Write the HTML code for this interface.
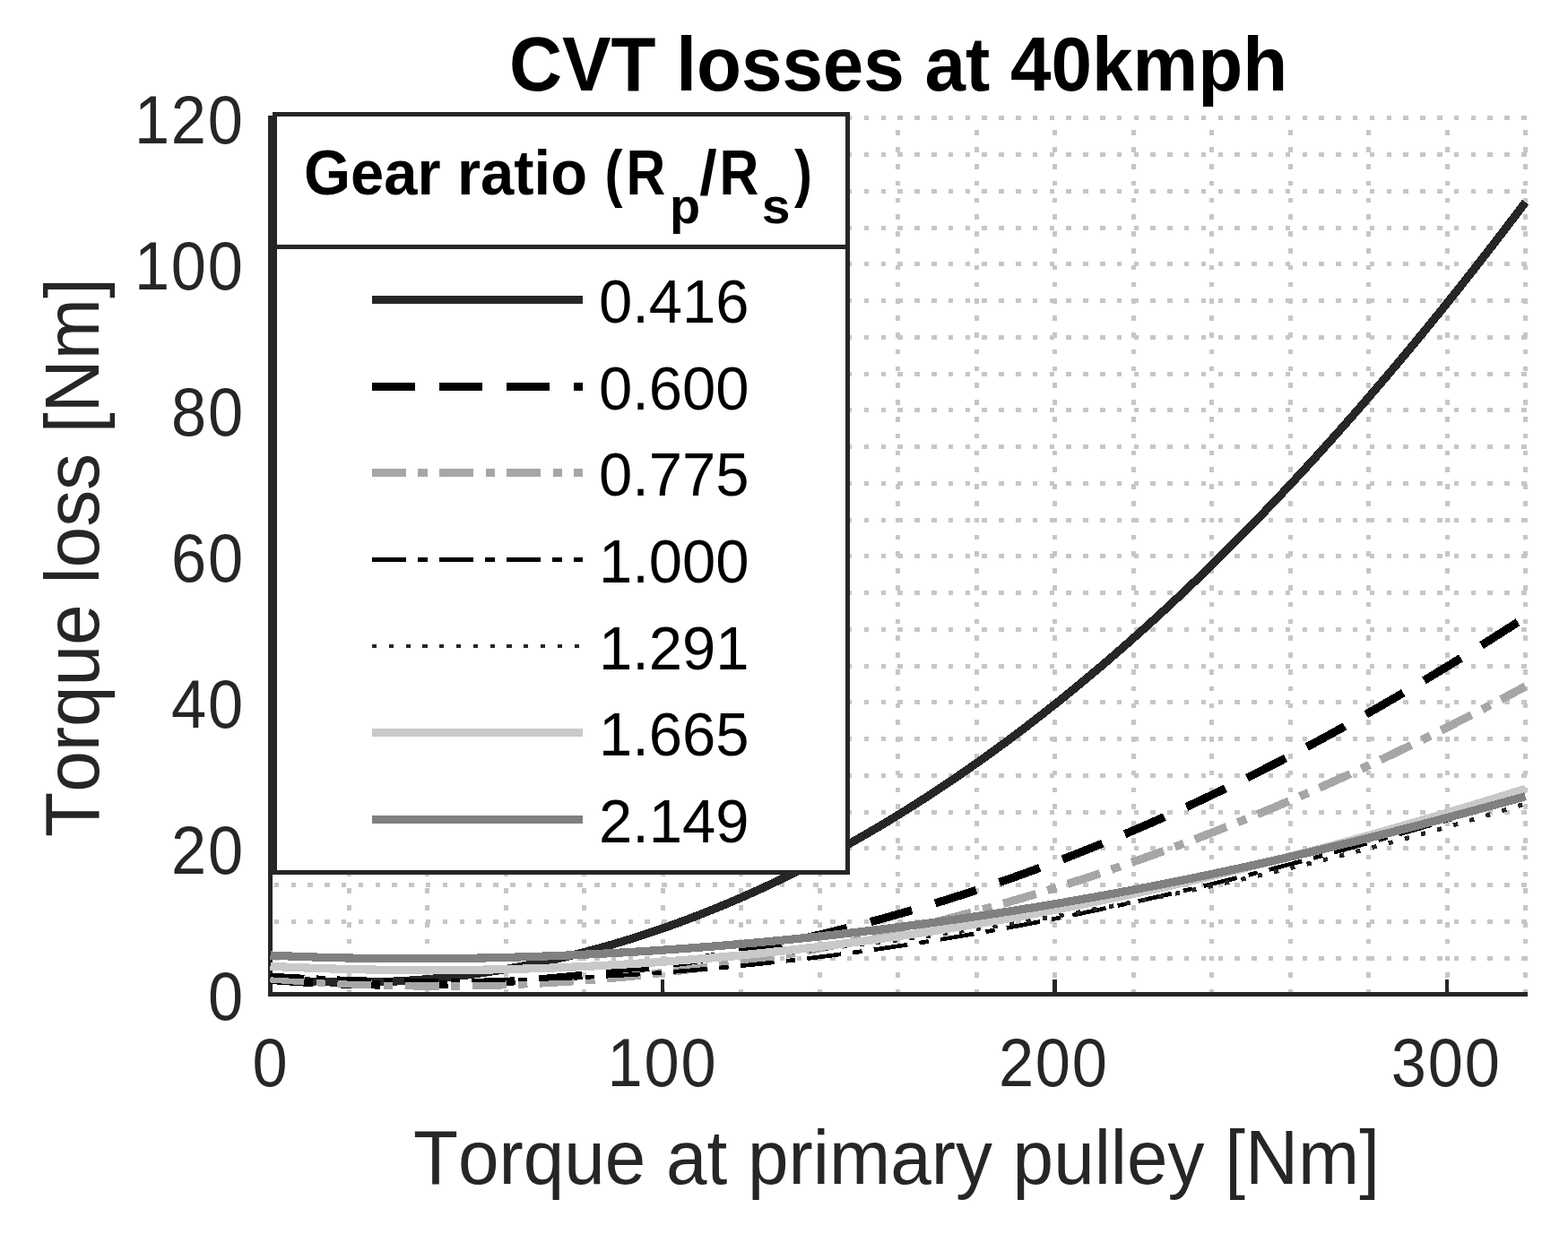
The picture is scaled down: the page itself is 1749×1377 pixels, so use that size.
<!DOCTYPE html>
<html lang="en"><head><meta charset="utf-8"><title>CVT losses at 40kmph</title>
<style>
html,body{margin:0;padding:0;background:#fff;}
body{width:1749px;height:1377px;overflow:hidden;}
svg{display:block;position:absolute;left:0;top:0;}
text{font-family:"Liberation Sans",Arial,Helvetica,sans-serif;font-kerning:none;}
.tk{font-size:73.70px;fill:#262626;letter-spacing:1.90px;}
.lb{font-size:81.80px;fill:#262626;}
.tt{font-size:81.80px;fill:#000;font-weight:bold;}
.lg{font-size:67.00px;fill:#000;}
.lt{font-size:67.00px;fill:#000;font-weight:bold;}
.ls{font-size:56.00px;fill:#000;font-weight:bold;}
</style></head><body>
<svg width="1749" height="1377" viewBox="0 0 1749 1377">
<rect x="0" y="0" width="1749" height="1377" fill="#ffffff"/>
<g stroke="#c6c6c6" stroke-width="5" fill="none" shape-rendering="crispEdges" stroke-dasharray="5.5 13.3">
<path d="M305.80 1069.50 H1703.90"/>
<path d="M305.80 1028.50 H1703.90"/>
<path d="M305.80 987.50 H1703.90"/>
<path d="M305.80 946.50 H1703.90"/>
<path d="M305.80 906.50 H1703.90"/>
<path d="M305.80 865.50 H1703.90"/>
<path d="M305.80 824.50 H1703.90"/>
<path d="M305.80 783.50 H1703.90"/>
<path d="M305.80 743.50 H1703.90"/>
<path d="M305.80 702.50 H1703.90"/>
<path d="M305.80 661.50 H1703.90"/>
<path d="M305.80 620.50 H1703.90"/>
<path d="M305.80 580.50 H1703.90"/>
<path d="M305.80 539.50 H1703.90"/>
<path d="M305.80 498.50 H1703.90"/>
<path d="M305.80 457.50 H1703.90"/>
<path d="M305.80 417.50 H1703.90"/>
<path d="M305.80 376.50 H1703.90"/>
<path d="M305.80 335.50 H1703.90"/>
<path d="M305.80 294.50 H1703.90"/>
<path d="M305.80 254.50 H1703.90"/>
<path d="M305.80 213.50 H1703.90"/>
<path d="M305.80 172.50 H1703.90"/>
<path d="M305.80 131.50 H1703.90"/>
<path d="M389.50 145.40 V1109.40"/>
<path d="M476.50 145.40 V1109.40"/>
<path d="M564.50 145.40 V1109.40"/>
<path d="M651.50 145.40 V1109.40"/>
<path d="M739.50 145.40 V1109.40"/>
<path d="M826.50 145.40 V1109.40"/>
<path d="M914.50 145.40 V1109.40"/>
<path d="M1001.50 145.40 V1109.40"/>
<path d="M1089.50 145.40 V1109.40"/>
<path d="M1176.50 145.40 V1109.40"/>
<path d="M1264.50 145.40 V1109.40"/>
<path d="M1351.50 145.40 V1109.40"/>
<path d="M1439.50 145.40 V1109.40"/>
<path d="M1526.50 145.40 V1109.40"/>
<path d="M1614.50 145.40 V1109.40"/>
<path d="M1701.50 145.40 V1109.40"/>
</g>
<g stroke="#262626" stroke-width="4.7" fill="none" shape-rendering="crispEdges">
<path d="M301.50 129.00 V1111.75"/>
<path d="M299.15 1109.40 H1703.90"/>
<path d="M739.00 1109.40 V1092.90"/>
<path d="M1176.50 1109.40 V1092.90"/>
<path d="M1614.00 1109.40 V1092.90"/>
</g>
<g fill="none" stroke-linejoin="round" shape-rendering="crispEdges">
<path d="M301.50 1092.02 L310.25 1092.79 L319.00 1093.48 L327.75 1094.09 L336.50 1094.62 L345.25 1095.08 L354.00 1095.46 L362.75 1095.76 L371.50 1095.99 L380.25 1096.14 L389.00 1096.21 L397.75 1096.20 L406.50 1096.12 L415.25 1095.95 L424.00 1095.72 L432.75 1095.40 L441.50 1095.01 L450.25 1094.54 L459.00 1094.00 L467.75 1093.37 L476.50 1092.67 L485.25 1091.90 L494.00 1091.05 L502.75 1090.12 L511.50 1089.11 L520.25 1088.03 L529.00 1086.87 L537.75 1085.63 L546.50 1084.32 L555.25 1082.93 L564.00 1081.46 L572.75 1079.92 L581.50 1078.30 L590.25 1076.60 L599.00 1074.83 L607.75 1072.98 L616.50 1071.05 L625.25 1069.05 L634.00 1066.97 L642.75 1064.81 L651.50 1062.58 L660.25 1060.27 L669.00 1057.88 L677.75 1055.42 L686.50 1052.87 L695.25 1050.26 L704.00 1047.56 L712.75 1044.79 L721.50 1041.94 L730.25 1039.01 L739.00 1036.00 L747.75 1032.92 L756.50 1029.76 L765.25 1026.53 L774.00 1023.21 L782.75 1019.82 L791.50 1016.35 L800.25 1012.80 L809.00 1009.18 L817.75 1005.47 L826.50 1001.69 L835.25 997.84 L844.00 993.90 L852.75 989.89 L861.50 985.79 L870.25 981.62 L879.00 977.38 L887.75 973.05 L896.50 968.64 L905.25 964.16 L914.00 959.60 L922.75 954.96 L931.50 950.24 L940.25 945.44 L949.00 940.57 L957.75 935.61 L966.50 930.58 L975.25 925.47 L984.00 920.28 L992.75 915.01 L1001.50 909.66 L1010.25 904.23 L1019.00 898.73 L1027.75 893.14 L1036.50 887.48 L1045.25 881.73 L1054.00 875.91 L1062.75 870.01 L1071.50 864.03 L1080.25 857.97 L1089.00 851.83 L1097.75 845.61 L1106.50 839.31 L1115.25 832.93 L1124.00 826.47 L1132.75 819.94 L1141.50 813.32 L1150.25 806.62 L1159.00 799.85 L1167.75 792.99 L1176.50 786.05 L1185.25 779.04 L1194.00 771.95 L1202.75 764.77 L1211.50 757.52 L1220.25 750.18 L1229.00 742.77 L1237.75 735.28 L1246.50 727.70 L1255.25 720.05 L1264.00 712.32 L1272.75 704.51 L1281.50 696.62 L1290.25 688.65 L1299.00 680.60 L1307.75 672.47 L1316.50 664.26 L1325.25 655.97 L1334.00 647.60 L1342.75 639.15 L1351.50 630.63 L1360.25 622.02 L1369.00 613.34 L1377.75 604.57 L1386.50 595.73 L1395.25 586.81 L1404.00 577.80 L1412.75 568.72 L1421.50 559.57 L1430.25 550.33 L1439.00 541.01 L1447.75 531.62 L1456.50 522.14 L1465.25 512.59 L1474.00 502.96 L1482.75 493.26 L1491.50 483.47 L1500.25 473.61 L1509.00 463.67 L1517.75 453.65 L1526.50 443.56 L1535.25 433.38 L1544.00 423.13 L1552.75 412.81 L1561.50 402.40 L1570.25 391.92 L1579.00 381.37 L1587.75 370.74 L1596.50 360.03 L1605.25 349.25 L1614.00 338.39 L1622.75 327.45 L1631.50 316.44 L1640.25 305.36 L1649.00 294.20 L1657.75 282.97 L1666.50 271.66 L1675.25 260.28 L1684.00 248.82 L1692.75 237.29 L1701.50 225.69" stroke="#262626" stroke-width="9.2"/>
<path d="M301.50 1093.27 L310.25 1093.97 L319.00 1094.62 L327.75 1095.23 L336.50 1095.79 L345.25 1096.31 L354.00 1096.78 L362.75 1097.21 L371.50 1097.59 L380.25 1097.93 L389.00 1098.23 L397.75 1098.48 L406.50 1098.69 L415.25 1098.86 L424.00 1098.99 L432.75 1099.07 L441.50 1099.11 L450.25 1099.11 L459.00 1099.07 L467.75 1098.99 L476.50 1098.87 L485.25 1098.71 L494.00 1098.51 L502.75 1098.26 L511.50 1097.98 L520.25 1097.66 L529.00 1097.30 L537.75 1096.90 L546.50 1096.45 L555.25 1095.97 L564.00 1095.46 L572.75 1094.90 L581.50 1094.30 L590.25 1093.67 L599.00 1092.99 L607.75 1092.28 L616.50 1091.53 L625.25 1090.74 L634.00 1089.91 L642.75 1089.05 L651.50 1088.14 L660.25 1087.20 L669.00 1086.22 L677.75 1085.20 L686.50 1084.14 L695.25 1083.04 L704.00 1081.91 L712.75 1080.74 L721.50 1079.53 L730.25 1078.28 L739.00 1076.99 L747.75 1075.67 L756.50 1074.30 L765.25 1072.90 L774.00 1071.46 L782.75 1069.98 L791.50 1068.46 L800.25 1066.90 L809.00 1065.31 L817.75 1063.67 L826.50 1062.00 L835.25 1060.29 L844.00 1058.54 L852.75 1056.75 L861.50 1054.92 L870.25 1053.05 L879.00 1051.14 L887.75 1049.20 L896.50 1047.21 L905.25 1045.18 L914.00 1043.12 L922.75 1041.01 L931.50 1038.87 L940.25 1036.68 L949.00 1034.45 L957.75 1032.19 L966.50 1029.88 L975.25 1027.53 L984.00 1025.15 L992.75 1022.72 L1001.50 1020.25 L1010.25 1017.74 L1019.00 1015.19 L1027.75 1012.60 L1036.50 1009.97 L1045.25 1007.29 L1054.00 1004.58 L1062.75 1001.82 L1071.50 999.03 L1080.25 996.19 L1089.00 993.31 L1097.75 990.38 L1106.50 987.42 L1115.25 984.41 L1124.00 981.36 L1132.75 978.27 L1141.50 975.14 L1150.25 971.97 L1159.00 968.75 L1167.75 965.49 L1176.50 962.19 L1185.25 958.85 L1194.00 955.46 L1202.75 952.03 L1211.50 948.56 L1220.25 945.05 L1229.00 941.49 L1237.75 937.89 L1246.50 934.25 L1255.25 930.57 L1264.00 926.84 L1272.75 923.07 L1281.50 919.26 L1290.25 915.41 L1299.00 911.51 L1307.75 907.57 L1316.50 903.59 L1325.25 899.57 L1334.00 895.50 L1342.75 891.39 L1351.50 887.24 L1360.25 883.05 L1369.00 878.82 L1377.75 874.54 L1386.50 870.22 L1395.25 865.86 L1404.00 861.46 L1412.75 857.02 L1421.50 852.54 L1430.25 848.01 L1439.00 843.44 L1447.75 838.84 L1456.50 834.19 L1465.25 829.50 L1474.00 824.78 L1482.75 820.01 L1491.50 815.20 L1500.25 810.36 L1509.00 805.47 L1517.75 800.54 L1526.50 795.58 L1535.25 790.58 L1544.00 785.54 L1552.75 780.46 L1561.50 775.35 L1570.25 770.20 L1579.00 765.01 L1587.75 759.78 L1596.50 754.52 L1605.25 749.23 L1614.00 743.89 L1622.75 738.53 L1631.50 733.13 L1640.25 727.69 L1649.00 722.23 L1657.75 716.73 L1666.50 711.19 L1675.25 705.63 L1684.00 700.03 L1692.75 694.41 L1701.50 688.75" stroke="#000000" stroke-width="9.2" stroke-dasharray="48 27.1"/>
<path d="M301.50 1091.82 L310.25 1092.58 L319.00 1093.30 L327.75 1093.98 L336.50 1094.63 L345.25 1095.24 L354.00 1095.81 L362.75 1096.35 L371.50 1096.86 L380.25 1097.32 L389.00 1097.75 L397.75 1098.14 L406.50 1098.50 L415.25 1098.82 L424.00 1099.11 L432.75 1099.36 L441.50 1099.57 L450.25 1099.74 L459.00 1099.88 L467.75 1099.99 L476.50 1100.06 L485.25 1100.09 L494.00 1100.08 L502.75 1100.04 L511.50 1099.97 L520.25 1099.86 L529.00 1099.71 L537.75 1099.53 L546.50 1099.31 L555.25 1099.05 L564.00 1098.76 L572.75 1098.43 L581.50 1098.07 L590.25 1097.67 L599.00 1097.24 L607.75 1096.77 L616.50 1096.26 L625.25 1095.72 L634.00 1095.15 L642.75 1094.54 L651.50 1093.89 L660.25 1093.21 L669.00 1092.49 L677.75 1091.73 L686.50 1090.94 L695.25 1090.12 L704.00 1089.26 L712.75 1088.36 L721.50 1087.43 L730.25 1086.47 L739.00 1085.47 L747.75 1084.43 L756.50 1083.36 L765.25 1082.25 L774.00 1081.11 L782.75 1079.93 L791.50 1078.72 L800.25 1077.47 L809.00 1076.19 L817.75 1074.87 L826.50 1073.52 L835.25 1072.13 L844.00 1070.71 L852.75 1069.25 L861.50 1067.76 L870.25 1066.23 L879.00 1064.67 L887.75 1063.07 L896.50 1061.44 L905.25 1059.78 L914.00 1058.07 L922.75 1056.34 L931.50 1054.57 L940.25 1052.76 L949.00 1050.92 L957.75 1049.05 L966.50 1047.14 L975.25 1045.20 L984.00 1043.22 L992.75 1041.20 L1001.50 1039.16 L1010.25 1037.08 L1019.00 1034.96 L1027.75 1032.81 L1036.50 1030.62 L1045.25 1028.41 L1054.00 1026.15 L1062.75 1023.86 L1071.50 1021.54 L1080.25 1019.18 L1089.00 1016.79 L1097.75 1014.37 L1106.50 1011.91 L1115.25 1009.42 L1124.00 1006.89 L1132.75 1004.33 L1141.50 1001.73 L1150.25 999.10 L1159.00 996.44 L1167.75 993.74 L1176.50 991.01 L1185.25 988.24 L1194.00 985.44 L1202.75 982.61 L1211.50 979.74 L1220.25 976.84 L1229.00 973.91 L1237.75 970.94 L1246.50 967.94 L1255.25 964.90 L1264.00 961.83 L1272.75 958.73 L1281.50 955.59 L1290.25 952.42 L1299.00 949.21 L1307.75 945.98 L1316.50 942.70 L1325.25 939.40 L1334.00 936.06 L1342.75 932.69 L1351.50 929.28 L1360.25 925.84 L1369.00 922.37 L1377.75 918.86 L1386.50 915.33 L1395.25 911.75 L1404.00 908.15 L1412.75 904.51 L1421.50 900.84 L1430.25 897.13 L1439.00 893.39 L1447.75 889.62 L1456.50 885.81 L1465.25 881.98 L1474.00 878.10 L1482.75 874.20 L1491.50 870.26 L1500.25 866.29 L1509.00 862.29 L1517.75 858.25 L1526.50 854.18 L1535.25 850.08 L1544.00 845.94 L1552.75 841.78 L1561.50 837.58 L1570.25 833.34 L1579.00 829.08 L1587.75 824.78 L1596.50 820.44 L1605.25 816.08 L1614.00 811.68 L1622.75 807.25 L1631.50 802.79 L1640.25 798.29 L1649.00 793.77 L1657.75 789.21 L1666.50 784.61 L1675.25 779.99 L1684.00 775.33 L1692.75 770.64 L1701.50 765.92" stroke="#a6a6a6" stroke-width="9.2" stroke-dasharray="38 13.35 10.4 13.4"/>
<path d="M301.50 1087.94 L310.25 1088.48 L319.00 1089.00 L327.75 1089.49 L336.50 1089.96 L345.25 1090.40 L354.00 1090.81 L362.75 1091.20 L371.50 1091.57 L380.25 1091.91 L389.00 1092.22 L397.75 1092.52 L406.50 1092.78 L415.25 1093.03 L424.00 1093.25 L432.75 1093.44 L441.50 1093.61 L450.25 1093.76 L459.00 1093.88 L467.75 1093.98 L476.50 1094.05 L485.25 1094.10 L494.00 1094.12 L502.75 1094.13 L511.50 1094.10 L520.25 1094.06 L529.00 1093.99 L537.75 1093.89 L546.50 1093.78 L555.25 1093.63 L564.00 1093.47 L572.75 1093.28 L581.50 1093.07 L590.25 1092.83 L599.00 1092.57 L607.75 1092.29 L616.50 1091.99 L625.25 1091.66 L634.00 1091.30 L642.75 1090.93 L651.50 1090.53 L660.25 1090.11 L669.00 1089.66 L677.75 1089.19 L686.50 1088.70 L695.25 1088.18 L704.00 1087.65 L712.75 1087.08 L721.50 1086.50 L730.25 1085.89 L739.00 1085.26 L747.75 1084.61 L756.50 1083.93 L765.25 1083.23 L774.00 1082.51 L782.75 1081.76 L791.50 1081.00 L800.25 1080.20 L809.00 1079.39 L817.75 1078.55 L826.50 1077.70 L835.25 1076.81 L844.00 1075.91 L852.75 1074.98 L861.50 1074.03 L870.25 1073.06 L879.00 1072.07 L887.75 1071.05 L896.50 1070.01 L905.25 1068.95 L914.00 1067.87 L922.75 1066.76 L931.50 1065.63 L940.25 1064.48 L949.00 1063.31 L957.75 1062.11 L966.50 1060.90 L975.25 1059.66 L984.00 1058.40 L992.75 1057.11 L1001.50 1055.81 L1010.25 1054.48 L1019.00 1053.13 L1027.75 1051.76 L1036.50 1050.37 L1045.25 1048.96 L1054.00 1047.52 L1062.75 1046.07 L1071.50 1044.59 L1080.25 1043.09 L1089.00 1041.57 L1097.75 1040.03 L1106.50 1038.47 L1115.25 1036.88 L1124.00 1035.28 L1132.75 1033.65 L1141.50 1032.01 L1150.25 1030.34 L1159.00 1028.65 L1167.75 1026.95 L1176.50 1025.22 L1185.25 1023.47 L1194.00 1021.70 L1202.75 1019.91 L1211.50 1018.10 L1220.25 1016.27 L1229.00 1014.42 L1237.75 1012.55 L1246.50 1010.66 L1255.25 1008.75 L1264.00 1006.83 L1272.75 1004.88 L1281.50 1002.91 L1290.25 1000.93 L1299.00 998.92 L1307.75 996.90 L1316.50 994.86 L1325.25 992.80 L1334.00 990.72 L1342.75 988.62 L1351.50 986.50 L1360.25 984.37 L1369.00 982.22 L1377.75 980.05 L1386.50 977.86 L1395.25 975.66 L1404.00 973.44 L1412.75 971.20 L1421.50 968.94 L1430.25 966.67 L1439.00 964.38 L1447.75 962.08 L1456.50 959.75 L1465.25 957.42 L1474.00 955.06 L1482.75 952.70 L1491.50 950.31 L1500.25 947.91 L1509.00 945.50 L1517.75 943.07 L1526.50 940.62 L1535.25 938.17 L1544.00 935.69 L1552.75 933.21 L1561.50 930.71 L1570.25 928.19 L1579.00 925.67 L1587.75 923.13 L1596.50 920.58 L1605.25 918.01 L1614.00 915.43 L1622.75 912.84 L1631.50 910.24 L1640.25 907.63 L1649.00 905.01 L1657.75 902.38 L1666.50 899.73 L1675.25 897.08 L1684.00 894.41 L1692.75 891.74 L1701.50 889.05" stroke="#000000" stroke-width="4.7" stroke-dasharray="38 13.3 10.4 13.3"/>
<path d="M301.50 1079.21 L310.25 1079.54 L319.00 1079.85 L327.75 1080.14 L336.50 1080.42 L345.25 1080.68 L354.00 1080.92 L362.75 1081.15 L371.50 1081.35 L380.25 1081.54 L389.00 1081.71 L397.75 1081.87 L406.50 1082.00 L415.25 1082.12 L424.00 1082.22 L432.75 1082.30 L441.50 1082.37 L450.25 1082.42 L459.00 1082.45 L467.75 1082.46 L476.50 1082.45 L485.25 1082.43 L494.00 1082.39 L502.75 1082.33 L511.50 1082.25 L520.25 1082.16 L529.00 1082.04 L537.75 1081.91 L546.50 1081.77 L555.25 1081.60 L564.00 1081.41 L572.75 1081.21 L581.50 1080.99 L590.25 1080.75 L599.00 1080.49 L607.75 1080.22 L616.50 1079.93 L625.25 1079.62 L634.00 1079.29 L642.75 1078.94 L651.50 1078.57 L660.25 1078.19 L669.00 1077.79 L677.75 1077.37 L686.50 1076.93 L695.25 1076.47 L704.00 1076.00 L712.75 1075.50 L721.50 1074.99 L730.25 1074.46 L739.00 1073.91 L747.75 1073.34 L756.50 1072.76 L765.25 1072.15 L774.00 1071.53 L782.75 1070.89 L791.50 1070.23 L800.25 1069.55 L809.00 1068.86 L817.75 1068.14 L826.50 1067.41 L835.25 1066.66 L844.00 1065.89 L852.75 1065.10 L861.50 1064.29 L870.25 1063.46 L879.00 1062.62 L887.75 1061.75 L896.50 1060.87 L905.25 1059.97 L914.00 1059.05 L922.75 1058.11 L931.50 1057.15 L940.25 1056.17 L949.00 1055.18 L957.75 1054.16 L966.50 1053.13 L975.25 1052.08 L984.00 1051.01 L992.75 1049.92 L1001.50 1048.81 L1010.25 1047.68 L1019.00 1046.53 L1027.75 1045.37 L1036.50 1044.18 L1045.25 1042.98 L1054.00 1041.75 L1062.75 1040.51 L1071.50 1039.25 L1080.25 1037.97 L1089.00 1036.67 L1097.75 1035.35 L1106.50 1034.01 L1115.25 1032.65 L1124.00 1031.28 L1132.75 1029.88 L1141.50 1028.47 L1150.25 1027.03 L1159.00 1025.58 L1167.75 1024.10 L1176.50 1022.61 L1185.25 1021.10 L1194.00 1019.57 L1202.75 1018.02 L1211.50 1016.45 L1220.25 1014.86 L1229.00 1013.25 L1237.75 1011.62 L1246.50 1009.97 L1255.25 1008.30 L1264.00 1006.62 L1272.75 1004.91 L1281.50 1003.18 L1290.25 1001.44 L1299.00 999.67 L1307.75 997.88 L1316.50 996.08 L1325.25 994.26 L1334.00 992.41 L1342.75 990.55 L1351.50 988.66 L1360.25 986.76 L1369.00 984.84 L1377.75 982.89 L1386.50 980.93 L1395.25 978.95 L1404.00 976.94 L1412.75 974.92 L1421.50 972.88 L1430.25 970.81 L1439.00 968.73 L1447.75 966.63 L1456.50 964.51 L1465.25 962.36 L1474.00 960.20 L1482.75 958.02 L1491.50 955.82 L1500.25 953.59 L1509.00 951.35 L1517.75 949.09 L1526.50 946.80 L1535.25 944.50 L1544.00 942.18 L1552.75 939.83 L1561.50 937.47 L1570.25 935.09 L1579.00 932.68 L1587.75 930.26 L1596.50 927.81 L1605.25 925.35 L1614.00 922.86 L1622.75 920.35 L1631.50 917.83 L1640.25 915.28 L1649.00 912.71 L1657.75 910.13 L1666.50 907.52 L1675.25 904.89 L1684.00 902.24 L1692.75 899.57 L1701.50 896.88" stroke="#262626" stroke-width="4.9" stroke-dasharray="5.2 13.6"/>
<path d="M301.50 1078.27 L310.25 1078.68 L319.00 1079.08 L327.75 1079.45 L336.50 1079.81 L345.25 1080.14 L354.00 1080.45 L362.75 1080.74 L371.50 1081.01 L380.25 1081.26 L389.00 1081.49 L397.75 1081.69 L406.50 1081.88 L415.25 1082.04 L424.00 1082.19 L432.75 1082.31 L441.50 1082.41 L450.25 1082.49 L459.00 1082.55 L467.75 1082.58 L476.50 1082.60 L485.25 1082.60 L494.00 1082.57 L502.75 1082.52 L511.50 1082.45 L520.25 1082.37 L529.00 1082.26 L537.75 1082.12 L546.50 1081.97 L555.25 1081.80 L564.00 1081.60 L572.75 1081.39 L581.50 1081.15 L590.25 1080.89 L599.00 1080.61 L607.75 1080.31 L616.50 1079.99 L625.25 1079.65 L634.00 1079.28 L642.75 1078.90 L651.50 1078.49 L660.25 1078.06 L669.00 1077.61 L677.75 1077.14 L686.50 1076.65 L695.25 1076.14 L704.00 1075.60 L712.75 1075.05 L721.50 1074.47 L730.25 1073.87 L739.00 1073.26 L747.75 1072.61 L756.50 1071.95 L765.25 1071.27 L774.00 1070.57 L782.75 1069.84 L791.50 1069.09 L800.25 1068.32 L809.00 1067.53 L817.75 1066.72 L826.50 1065.89 L835.25 1065.04 L844.00 1064.16 L852.75 1063.27 L861.50 1062.35 L870.25 1061.41 L879.00 1060.45 L887.75 1059.47 L896.50 1058.47 L905.25 1057.45 L914.00 1056.40 L922.75 1055.33 L931.50 1054.25 L940.25 1053.14 L949.00 1052.01 L957.75 1050.86 L966.50 1049.69 L975.25 1048.49 L984.00 1047.28 L992.75 1046.04 L1001.50 1044.79 L1010.25 1043.51 L1019.00 1042.21 L1027.75 1040.89 L1036.50 1039.55 L1045.25 1038.19 L1054.00 1036.81 L1062.75 1035.40 L1071.50 1033.98 L1080.25 1032.53 L1089.00 1031.07 L1097.75 1029.58 L1106.50 1028.07 L1115.25 1026.55 L1124.00 1025.00 L1132.75 1023.43 L1141.50 1021.84 L1150.25 1020.23 L1159.00 1018.59 L1167.75 1016.94 L1176.50 1015.27 L1185.25 1013.58 L1194.00 1011.86 L1202.75 1010.13 L1211.50 1008.37 L1220.25 1006.60 L1229.00 1004.81 L1237.75 1002.99 L1246.50 1001.16 L1255.25 999.30 L1264.00 997.43 L1272.75 995.53 L1281.50 993.62 L1290.25 991.69 L1299.00 989.73 L1307.75 987.76 L1316.50 985.77 L1325.25 983.76 L1334.00 981.72 L1342.75 979.67 L1351.50 977.60 L1360.25 975.51 L1369.00 973.41 L1377.75 971.28 L1386.50 969.13 L1395.25 966.97 L1404.00 964.78 L1412.75 962.58 L1421.50 960.36 L1430.25 958.12 L1439.00 955.87 L1447.75 953.59 L1456.50 951.30 L1465.25 948.98 L1474.00 946.66 L1482.75 944.31 L1491.50 941.94 L1500.25 939.56 L1509.00 937.16 L1517.75 934.74 L1526.50 932.31 L1535.25 929.86 L1544.00 927.39 L1552.75 924.91 L1561.50 922.40 L1570.25 919.89 L1579.00 917.35 L1587.75 914.80 L1596.50 912.23 L1605.25 909.65 L1614.00 907.05 L1622.75 904.44 L1631.50 901.81 L1640.25 899.16 L1649.00 896.50 L1657.75 893.83 L1666.50 891.14 L1675.25 888.43 L1684.00 885.71 L1692.75 882.98 L1701.50 880.23" stroke="#c9c9c9" stroke-width="9.2"/>
<path d="M301.50 1066.00 L310.25 1066.41 L319.00 1066.80 L327.75 1067.16 L336.50 1067.50 L345.25 1067.81 L354.00 1068.10 L362.75 1068.36 L371.50 1068.60 L380.25 1068.82 L389.00 1069.01 L397.75 1069.18 L406.50 1069.33 L415.25 1069.45 L424.00 1069.56 L432.75 1069.64 L441.50 1069.70 L450.25 1069.74 L459.00 1069.76 L467.75 1069.75 L476.50 1069.73 L485.25 1069.69 L494.00 1069.62 L502.75 1069.54 L511.50 1069.43 L520.25 1069.31 L529.00 1069.17 L537.75 1069.00 L546.50 1068.82 L555.25 1068.62 L564.00 1068.40 L572.75 1068.16 L581.50 1067.90 L590.25 1067.63 L599.00 1067.33 L607.75 1067.02 L616.50 1066.69 L625.25 1066.34 L634.00 1065.97 L642.75 1065.59 L651.50 1065.18 L660.25 1064.76 L669.00 1064.32 L677.75 1063.86 L686.50 1063.39 L695.25 1062.90 L704.00 1062.39 L712.75 1061.86 L721.50 1061.31 L730.25 1060.75 L739.00 1060.17 L747.75 1059.57 L756.50 1058.96 L765.25 1058.32 L774.00 1057.67 L782.75 1057.01 L791.50 1056.32 L800.25 1055.62 L809.00 1054.90 L817.75 1054.16 L826.50 1053.41 L835.25 1052.64 L844.00 1051.85 L852.75 1051.04 L861.50 1050.22 L870.25 1049.38 L879.00 1048.52 L887.75 1047.64 L896.50 1046.75 L905.25 1045.84 L914.00 1044.91 L922.75 1043.96 L931.50 1043.00 L940.25 1042.02 L949.00 1041.02 L957.75 1040.00 L966.50 1038.96 L975.25 1037.91 L984.00 1036.84 L992.75 1035.75 L1001.50 1034.65 L1010.25 1033.52 L1019.00 1032.38 L1027.75 1031.22 L1036.50 1030.04 L1045.25 1028.85 L1054.00 1027.63 L1062.75 1026.40 L1071.50 1025.15 L1080.25 1023.88 L1089.00 1022.59 L1097.75 1021.29 L1106.50 1019.96 L1115.25 1018.62 L1124.00 1017.26 L1132.75 1015.88 L1141.50 1014.49 L1150.25 1013.07 L1159.00 1011.64 L1167.75 1010.18 L1176.50 1008.71 L1185.25 1007.23 L1194.00 1005.72 L1202.75 1004.19 L1211.50 1002.65 L1220.25 1001.09 L1229.00 999.50 L1237.75 997.90 L1246.50 996.29 L1255.25 994.65 L1264.00 993.00 L1272.75 991.32 L1281.50 989.63 L1290.25 987.92 L1299.00 986.19 L1307.75 984.45 L1316.50 982.68 L1325.25 980.90 L1334.00 979.10 L1342.75 977.28 L1351.50 975.44 L1360.25 973.59 L1369.00 971.72 L1377.75 969.83 L1386.50 967.92 L1395.25 965.99 L1404.00 964.05 L1412.75 962.09 L1421.50 960.11 L1430.25 958.12 L1439.00 956.11 L1447.75 954.08 L1456.50 952.03 L1465.25 949.97 L1474.00 947.89 L1482.75 945.80 L1491.50 943.68 L1500.25 941.56 L1509.00 939.41 L1517.75 937.25 L1526.50 935.08 L1535.25 932.89 L1544.00 930.69 L1552.75 928.47 L1561.50 926.23 L1570.25 923.98 L1579.00 921.72 L1587.75 919.44 L1596.50 917.15 L1605.25 914.85 L1614.00 912.53 L1622.75 910.20 L1631.50 907.86 L1640.25 905.50 L1649.00 903.14 L1657.75 900.76 L1666.50 898.37 L1675.25 895.97 L1684.00 893.56 L1692.75 891.13 L1701.50 888.70" stroke="#808080" stroke-width="9.2"/>
</g>
<rect x="306.50" y="127.20" width="639.10" height="846.00" fill="#ffffff" stroke="#262626" stroke-width="4.8" shape-rendering="crispEdges"/>
<path d="M306.50 275.30 H945.60" stroke="#262626" stroke-width="4.8" shape-rendering="crispEdges"/>
<path d="M415 334.50 H649.9" stroke="#262626" stroke-width="9.2" fill="none" shape-rendering="crispEdges"/>
<text class="lg" transform="translate(668.00 360.10) scale(1.0000 1.0200)">0.416</text>
<path d="M415 431.13 H649.9" stroke="#000000" stroke-width="9.2" fill="none" shape-rendering="crispEdges" stroke-dasharray="48 27.1"/>
<text class="lg" transform="translate(668.00 456.73) scale(1.0000 1.0200)">0.600</text>
<path d="M415 527.76 H649.9" stroke="#a6a6a6" stroke-width="9.2" fill="none" shape-rendering="crispEdges" stroke-dasharray="38 13.35 10.4 13.4"/>
<text class="lg" transform="translate(668.00 553.36) scale(1.0000 1.0200)">0.775</text>
<path d="M415 624.39 H649.9" stroke="#000000" stroke-width="4.7" fill="none" shape-rendering="crispEdges" stroke-dasharray="38 13.3 10.4 13.3"/>
<text class="lg" transform="translate(668.00 649.99) scale(1.0000 1.0200)">1.000</text>
<path d="M415 721.02 H649.9" stroke="#262626" stroke-width="4.9" fill="none" shape-rendering="crispEdges" stroke-dasharray="5.2 13.6"/>
<text class="lg" transform="translate(668.00 746.62) scale(1.0000 1.0200)">1.291</text>
<path d="M415 817.65 H649.9" stroke="#c9c9c9" stroke-width="9.2" fill="none" shape-rendering="crispEdges"/>
<text class="lg" transform="translate(668.00 843.25) scale(1.0000 1.0200)">1.665</text>
<path d="M415 914.28 H649.9" stroke="#808080" stroke-width="9.2" fill="none" shape-rendering="crispEdges"/>
<text class="lg" transform="translate(668.00 939.88) scale(1.0000 1.0200)">2.149</text>
<text class="lt" transform="translate(339.00 216.90) scale(0.9987 1.0450)">Gear ratio</text>
<text class="lt" transform="translate(674.40 216.90) scale(0.9000 1.0450)">(</text>
<text class="lt" transform="translate(698.48 216.90) scale(0.9047 1.0450)">R</text>
<text class="ls" transform="translate(747.01 248.80) scale(0.9964 1.0000)">p</text>
<text class="lt" transform="translate(780.15 216.90) scale(1.0471 1.0450)">/</text>
<text class="lt" transform="translate(802.47 216.90) scale(0.9070 1.0450)">R</text>
<text class="ls" transform="translate(849.76 248.80) scale(1.0185 1.0000)">s</text>
<text class="lt" transform="translate(886.00 216.90) scale(0.8947 1.0450)">)</text>
<text class="tk" transform="translate(232.01 1137.90) scale(0.9550 1.0200)">0</text>
<text class="tk" transform="translate(190.95 974.90) scale(0.9550 1.0200)">20</text>
<text class="tk" transform="translate(190.95 811.90) scale(0.9550 1.0200)">40</text>
<text class="tk" transform="translate(190.95 648.90) scale(0.9550 1.0200)">60</text>
<text class="tk" transform="translate(190.95 485.90) scale(0.9550 1.0200)">80</text>
<text class="tk" transform="translate(149.88 322.90) scale(0.9550 1.0200)">100</text>
<text class="tk" transform="translate(149.88 159.90) scale(0.9550 1.0200)">120</text>
<text class="tk" transform="translate(281.62 1211.80) scale(0.9550 1.0200)">0</text>
<text class="tk" transform="translate(677.52 1211.80) scale(0.9550 1.0200)">100</text>
<text class="tk" transform="translate(1113.88 1211.80) scale(0.9550 1.0200)">200</text>
<text class="tk" transform="translate(1551.76 1211.80) scale(0.9550 1.0200)">300</text>
<text class="tt" transform="translate(567.90 100.90) scale(1.0001 1.0400)">CVT losses at 40kmph</text>
<text class="lb" transform="translate(460.90 1320.90) scale(1.0009 1.0400)">Torque at primary pulley [Nm]</text>
<text class="lb" transform="translate(109.90 933.90) rotate(-90) scale(1.0015 1.0400)">Torque loss [Nm]</text>
</svg></body></html>
